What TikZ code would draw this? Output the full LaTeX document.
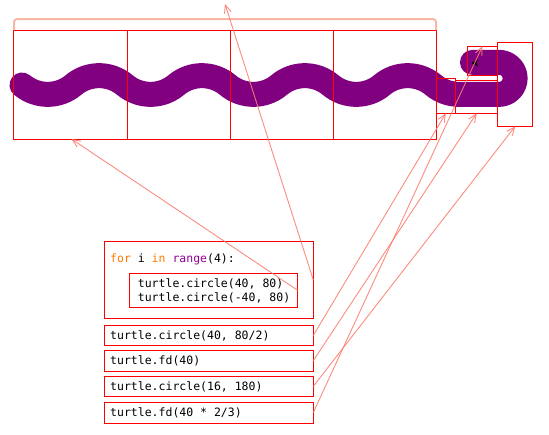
\documentclass[tikz,border=0pt]{standalone}
\usepackage{fontspec}
\newfontfamily\codefont{DejaVu Sans Mono}
\usetikzlibrary{arrows.meta}
\definecolor{arrowc}{HTML}{FA8072}
\definecolor{bracec}{HTML}{F8B6A6}
\definecolor{wavec}{HTML}{800080}
\definecolor{kw}{HTML}{FF7700}
\definecolor{fn}{HTML}{900090}
\begin{document}
\begin{tikzpicture}[x=1pt,y=-1pt,
  redbox/.style={draw=red, line width=1pt, inner sep=0pt, outer sep=0pt, anchor=north west},
  code/.style={font=\codefont\fontsize{11.5}{13.3}\selectfont, inner sep=0pt, anchor=base west},
  link/.style={draw=arrowc, draw opacity=0.9, line width=0.9pt, -{Straight Barb[length=8pt,width=7pt]}},
  bracestyle/.style={draw=bracec, line width=2pt, rounded corners=3pt},
  pen/.style={draw=wavec, line width=25pt, line cap=round, line join=round}
]
\useasboundingbox (0,0) rectangle (549,434);

% turtle drawing
\draw[pen] (22,85)
  arc[start angle=130,end angle=50,radius=40] arc[start angle=-130,end angle=-50,radius=40]
  arc[start angle=130,end angle=50,radius=40] arc[start angle=-130,end angle=-50,radius=40]
  arc[start angle=130,end angle=50,radius=40] arc[start angle=-130,end angle=-50,radius=40]
  arc[start angle=130,end angle=50,radius=40] arc[start angle=-130,end angle=-50,radius=40]
  arc[start angle=130,end angle=90,radius=40]
  -- ++(40,0)
  arc[start angle=90,end angle=-90,radius=16]
  -- ++(-26.67,0);
% turtle cursor
\fill[black] (471.5,63) -- (478,59.5) -- (476.3,63) -- (478,66.5) -- cycle;

% boxes over the drawing
\node[redbox, minimum width=114pt, minimum height=109pt] (m1) at (13,30) {};
\node[redbox, minimum width=103pt, minimum height=109pt] (m2) at (127,30) {};
\node[redbox, minimum width=103pt, minimum height=109pt] (m3) at (230,30) {};
\node[redbox, minimum width=103pt, minimum height=109pt] (m4) at (333,30) {};
\node[redbox, minimum width=19.7pt, minimum height=35pt] (ba) at (436,78.3) {};
\node[redbox, minimum width=42pt, minimum height=32.6pt] (bb) at (455.7,80.7) {};
\node[redbox, minimum width=35pt, minimum height=84pt] (bc) at (497.7,42.3) {};
\node[redbox, minimum width=30.4pt, minimum height=29.5pt] (bd) at (467.3,46) {};

% brace over the four loop boxes
\draw[bracestyle] ([xshift=1pt]m1.north west) -- ++(0,-11) -| (m4.north east);

% code boxes
\node[redbox, minimum width=209.3pt, minimum height=76.6pt] (forbox) at (104,241.7) {};
\node[redbox, minimum width=168.4pt, minimum height=34pt] (inner) at (129.3,273.3) {};
\node[redbox, minimum width=209.3pt, minimum height=19.6pt] (c1) at (104,325.7) {};
\node[redbox, minimum width=209.3pt, minimum height=20.7pt] (c2) at (104,350.3) {};
\node[redbox, minimum width=209.3pt, minimum height=20.7pt] (c3) at (104,376) {};
\node[redbox, minimum width=209.3pt, minimum height=21pt] (c4) at (104,402) {};

\node[code] (t0) at (110,262) {{\color{kw}for} i {\color{kw}in} {\color{fn}range}(4):};
\node[code] (t1) at (137.7,287.5) {turtle.circle(40, 80)};
\node[code] (t2) at (137.7,301) {turtle.circle(-40, 80)};
\node[code] (t3) at (110,339.3) {turtle.circle(40, 80/2)};
\node[code] (t4) at (110,364.6) {turtle.fd(40)};
\node[code] (t5) at (110,390.2) {turtle.circle(16, 180)};
\node[code] (t6) at (110,416.4) {turtle.fd(40 * 2/3)};

% connectors
\coordinate (topmark) at (225,4);
\draw[link] (forbox.east) -- (topmark);
\draw[link] (inner.east) -- ([xshift=1.5pt]m1.south);
\draw[link] (c1.east) -- (ba.south);
\draw[link] (c2.east) -- (bb.south);
\draw[link] (c3.east) -- (bc.south);
\draw[link] (c4.east) -- (bd.north);
\end{tikzpicture}
\end{document}
